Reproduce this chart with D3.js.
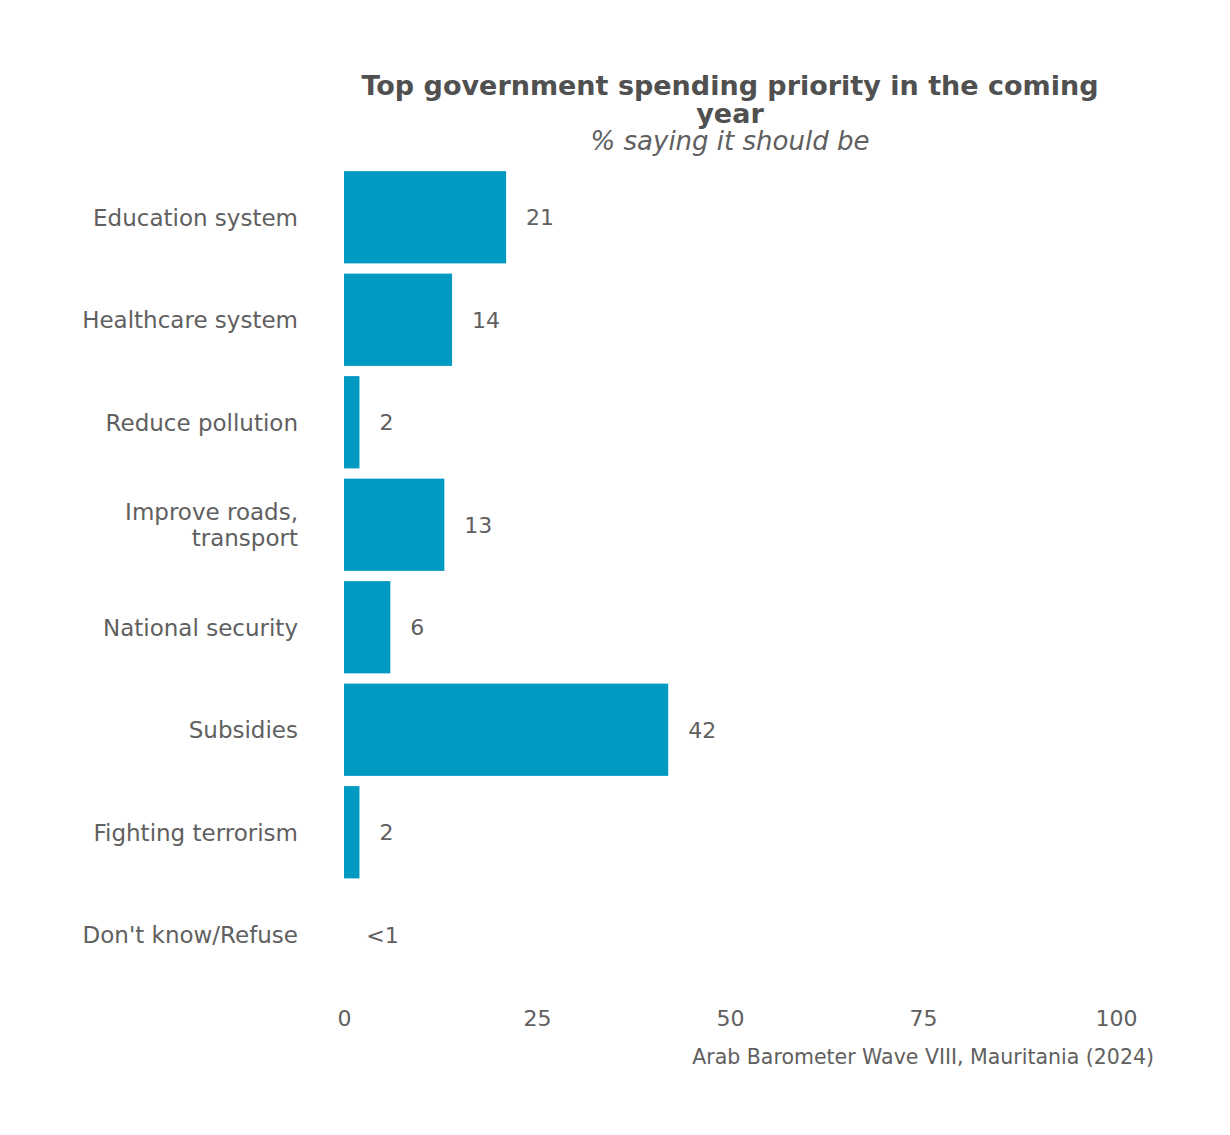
<!DOCTYPE html>
<html>
<head>
<meta charset="utf-8">
<script src="https://cdn.jsdelivr.net/npm/d3@7"></script>
<style>
  body { margin: 0; background: #fff; }
  svg text { font-family: "DejaVu Sans", sans-serif; fill: #606060; }
</style>
</head>
<body>
<svg id="chart" width="1230" height="1135"></svg>
<script>
// data
const categories = ["Education system", "Healthcare system", "Reduce pollution",
  "Improve roads,\ntransport", "National security", "Subsidies",
  "Fighting terrorism", "Don't know/Refuse"];
const values = [21, 14, 2, 13, 6, 42, 2, 0.3];
const valueLabels = ["21", "14", "2", "13", "6", "42", "2", "<1"];
const xTicks = [0, 25, 50, 75, 100];
const titleLines = ["Top government spending priority in the coming", "year"];
const subtitle = "% saying it should be";
const caption = "Arab Barometer Wave VIII, Mauritania (2024)";

const svg = d3.select("#chart");
const barColor = "#0099c1";

const xScale = d3.scaleLinear()
  .domain([0, 100])
  .range([344, 1116]);

const yScale = d3.scaleBand()
  .domain(categories)
  .range([166, 986])
  .paddingInner(0.1)
  .paddingOuter(0.05);

// bars
svg.selectAll("rect.bar")
  .data(categories)
  .enter()
  .append("rect")
  .attr("class", "bar")
  .attr("x", xScale(0))
  .attr("y", d => yScale(d))
  .attr("width", (d, i) => values[i] < 1 ? 0 : xScale(values[i]) - xScale(0))
  .attr("height", yScale.bandwidth())
  .attr("fill", barColor);

// value labels
svg.selectAll("text.val")
  .data(categories)
  .enter()
  .append("text")
  .attr("class", "val")
  .attr("x", (d, i) => xScale(values[i]) + 20)
  .attr("y", d => yScale(d) + yScale.bandwidth() / 2)
  .attr("dy", "0.36em")
  .style("font-size", "22px")
  .text((d, i) => valueLabels[i]);

// category labels (y axis, no line)
let yAxis = d3.axisLeft(yScale).tickSize(0).tickPadding(0);
let yG = svg.append("g")
  .attr("transform", "translate(298,0)")
  .call(yAxis);
yG.select(".domain").remove();
yG.selectAll(".tick text").each(function(d) {
  let t = d3.select(this);
  let lines = d.split("\n");
  t.text(null)
    .attr("fill", null)
    .style("font-size", "23px")
    .attr("dy", null);
  lines.forEach((ln, j) => {
    t.append("tspan")
      .attr("x", 0)
      .attr("dy", j == 0 ? (0.36 - (lines.length - 1) * 0.55) + "em" : "1.1em")
      .text(ln);
  });
});

// x axis ticks
let xAxis = d3.axisBottom(xScale).tickValues(xTicks).tickSize(0).tickPadding(0);
let xG = svg.append("g")
  .attr("transform", "translate(0,1010)")
  .call(xAxis);
xG.select(".domain").remove();
xG.selectAll(".tick text")
  .attr("fill", null)
  .attr("dy", "0.71em")
  .style("font-size", "22px");

// titles
let title = svg.append("text")
  .attr("x", xScale(50))
  .attr("y", 95)
  .attr("text-anchor", "middle")
  .style("fill", "#505050")
  .style("font-size", "27px")
  .style("font-weight", "bold");
titleLines.forEach((ln, j) => {
  title.append("tspan")
    .attr("x", xScale(50))
    .attr("dy", j == 0 ? 0 : 28)
    .text(ln);
});

svg.append("text")
  .attr("x", xScale(50))
  .attr("y", 150)
  .attr("text-anchor", "middle")
  .style("font-size", "26px")
  .style("font-style", "italic")
  .style("font-weight", 300)
  .text(subtitle);

svg.append("text")
  .attr("x", 1154)
  .attr("y", 1064)
  .attr("text-anchor", "end")
  .style("font-size", "20.5px")
  .text(caption);
</script>
</body>
</html>
